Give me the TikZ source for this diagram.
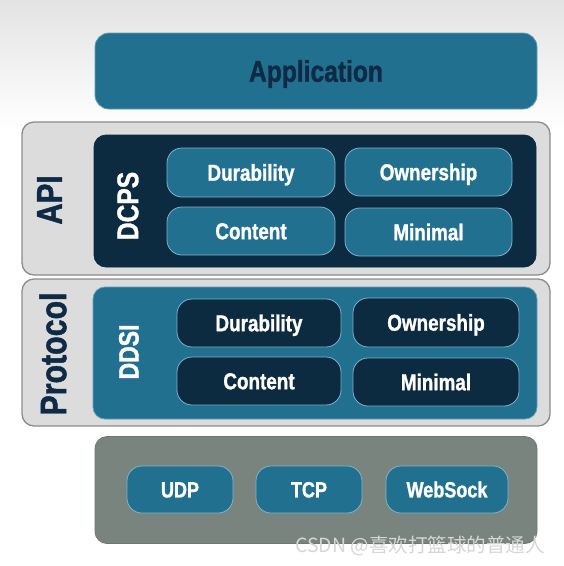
\documentclass[tikz,border=0pt]{standalone}
\usepackage{fontspec}
\newfontfamily\lblfont{Liberation Sans}[FakeStretch=0.82,FakeBold=1.2]
\newfontfamily\wmfont{Noto Sans CJK SC}
\definecolor{bluefill}{HTML}{22708F}
\definecolor{bluerim}{HTML}{7DB3CB}
\definecolor{navy}{HTML}{0C2A40}
\definecolor{navytext}{HTML}{0E2A45}
\definecolor{panelgray}{HTML}{DCDCDC}
\definecolor{panelrim}{HTML}{8C8C8C}
\definecolor{darkpanel}{HTML}{7A847F}
\definecolor{bgtop}{HTML}{E3E3E3}
\definecolor{wmcol}{HTML}{D6D6D6}
\tikzset{
  lbl/.style={font=\lblfont\bfseries\fontsize{#1}{#1}\selectfont, text height=0.716*#1 pt, text depth=0pt},
  box/.style={rounded corners=#1, inner sep=0pt, line width=0.8pt},
  graypanel/.style={box=12pt, fill=panelgray, draw=panelrim, line width=1.3pt},
  bluebig/.style={box=14pt, fill=bluefill, draw=bluerim!70!bluefill},
  navybig/.style={box=12pt, fill=navy, draw=navy},
  bluepill/.style={box=15pt, fill=bluefill, draw=bluerim, text=white, lbl=23},
  navypill/.style={box=15pt, fill=navy, draw=bluerim, text=white, lbl=23},
  sidelbl/.style={rotate=90, text=navytext, inner sep=0pt},
  innerlbl/.style={rotate=90, text=white, inner sep=0pt},
}
\begin{document}
\begin{tikzpicture}[x=1pt,y=-1pt]
\useasboundingbox (0,0) rectangle (564,566);
% background
\fill[white] (0,0) rectangle (564,566);
\shade[top color=bgtop, bottom color=white] (0,0) rectangle (564,130);
% Application
\node[bluebig, minimum width=442pt, minimum height=76pt, text=navytext, lbl=30] (app) at (316,71) {Application};
% API layer
\node[graypanel, minimum width=528pt, minimum height=153pt] (apipanel) at (286,198.5) {};
\node[navybig, minimum width=442pt, minimum height=132pt] (dcps) at (315,201) {};
\node[sidelbl, lbl=36] (apilbl) at (49,200) {API};
\node[innerlbl, lbl=30] (dcpslbl) at (127.5,206) {DCPS};
\node[bluepill, minimum width=168pt, minimum height=49pt] (a1) at (251,172.5) {Durability};
\node[bluepill, minimum width=167pt, minimum height=48pt] (a2) at (428.5,172) {Ownership};
\node[bluepill, minimum width=168pt, minimum height=48pt] (a3) at (251,231) {Content};
\node[bluepill, minimum width=167pt, minimum height=48pt] (a4) at (428.5,232) {Minimal};
% Protocol layer
\node[graypanel, minimum width=528pt, minimum height=147pt] (protopanel) at (286,352.5) {};
\node[bluebig, box=12pt, minimum width=444pt, minimum height=132pt] (ddsi) at (315,353) {};
\node[sidelbl, lbl=37] (protolbl) at (53,354) {Protocol};
\node[innerlbl, lbl=28] (ddsilbl) at (128.5,352) {DDSI};
\node[navypill, minimum width=164pt, minimum height=48pt] (p1) at (259,323) {Durability};
\node[navypill, minimum width=166pt, minimum height=49pt] (p2) at (436,322.5) {Ownership};
\node[navypill, minimum width=164pt, minimum height=48pt] (p3) at (259,381) {Content};
\node[navypill, minimum width=166pt, minimum height=48pt] (p4) at (436,382) {Minimal};
% Transport layer
\node[box=12pt, fill=darkpanel, draw=darkpanel!90!black, minimum width=442pt, minimum height=107pt] (transport) at (316,490) {};
\node[bluepill, minimum width=106pt, minimum height=47pt, lbl=22] (udp) at (180,489.5) {UDP};
\node[bluepill, minimum width=106pt, minimum height=47pt, lbl=22] (tcp) at (309,489.5) {TCP};
\node[bluepill, minimum width=122pt, minimum height=47pt, lbl=22] (ws) at (447,489.5) {WebSock};
% watermark
\node[text=wmcol, font=\wmfont\fontsize{19.5}{21}\selectfont, inner sep=0pt] (wm) at (420,546) {CSDN @喜欢打篮球的普通人};
\end{tikzpicture}
\end{document}
